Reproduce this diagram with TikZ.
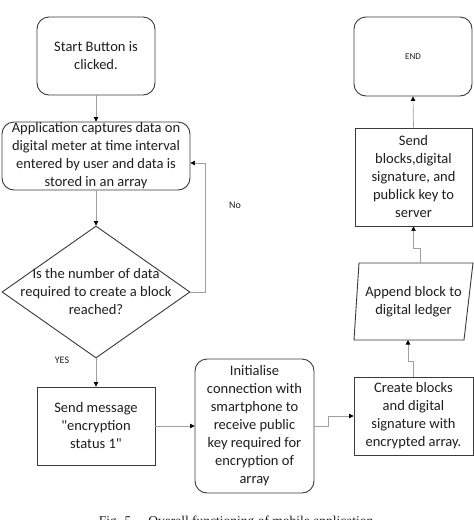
\documentclass[tikz,border=0pt]{standalone}
\usepackage{fontspec}
\setmainfont{Carlito}
\newfontfamily\capfont{Liberation Serif}
\usetikzlibrary{arrows.meta,shapes.geometric}
\definecolor{boxline}{HTML}{3A3A3A}
\definecolor{connline}{HTML}{A0A0A0}
\definecolor{txt}{HTML}{1E1E1E}
\tikzset{
  base/.style={draw=boxline, line width=0.9pt, text=txt, align=center, inner sep=0pt,
    font=\fontsize{14.5}{18}\selectfont},
  roundbox/.style={base, rounded corners=12pt},
  sqbox/.style={base},
  conn/.style={draw=connline, line width=0.7pt, -{Triangle[length=4.5pt,width=4.5pt,color=black,fill=black]}},
  smalllabel/.style={text=txt, font=\fontsize{10}{12}\selectfont}
}
\begin{document}
\begin{tikzpicture}[x=1pt,y=-1pt]
\useasboundingbox[fill=white] (0,0) rectangle (474,520);

% left column
\node[roundbox, minimum width=118pt, minimum height=78pt] (start) at (96,56) {Start Button is\\clicked.};
\node[roundbox, minimum width=188pt, minimum height=68pt] (app) at (96,156)
  {Application captures data on\\digital meter at time interval\\entered by user and data is\\stored in an array};
\node[diamond, draw=boxline, line width=0.9pt, minimum width=188pt, minimum height=132pt, inner sep=0pt] (dec) at (96,292) {};
\node[text=txt, align=center, font=\fontsize{14.5}{18}\selectfont] (dectext) at (96,292)
  {Is the number of data\\required to create a block\\reached?};
\node[sqbox, minimum width=118pt, minimum height=78pt] (send) at (96,426)
  {Send message\\\textquotedbl encryption\\status 1\textquotedbl};

% middle
\node[roundbox, minimum width=119pt, minimum height=134pt] (init) at (254.5,426)
  {Initialise\\connection with\\smartphone to\\receive public\\key required for\\encryption of\\array};

% right column
\node[sqbox, minimum width=119pt, minimum height=78pt] (create) at (413.5,416)
  {Create blocks\\and digital\\signature with\\encrypted array.};
\draw[draw=boxline, line width=0.9pt] (354,340) -- (464,340) -- (473,263) -- (359,263) -- cycle;
\node[text=txt, align=center, font=\fontsize{14.5}{18}\selectfont] (append) at (413.5,301.5)
  {Append block to\\digital ledger};
\coordinate (appb) at (408,340);
\coordinate (appt) at (420,263);
\node[sqbox, minimum width=117pt, minimum height=98pt] (send2) at (413.5,177)
  {Send\\blocks,digital\\signature, and\\publick key to\\server};
\node[roundbox, minimum width=118pt, minimum height=79pt, font=\fontsize{9}{11}\selectfont] (end) at (413,56.5) {END};

% connectors
\draw[conn] (start.south) -- (app.north);
\draw[conn] (app.south) -- (dec.north);
\draw[conn] (dec.east) -- ++(15,0) |- ([yshift=-7pt]app.east);
\draw[conn] (dec.south) -- (send.north);
\draw[conn] (send.east) -- (init.west);
\draw[conn] (init.east) -- ++(14,0) |- (create.west);
\draw[conn] (create.north) -- ++(0,-15) -| (appb);
\draw[conn] (appt) -- ++(0,-15) -| (send2.south);
\draw[conn] (send2.north) -- (end.south);

% labels
\node[smalllabel] (nolabel) at (235,205) {No};
\node[smalllabel] (yeslabel) at (62,360) {YES};

% caption (cut by page edge, as in the reference)
\node[anchor=north, text=txt, font=\capfont\fontsize{13.5}{15}\selectfont] (caption) at (236,512.5)
  {Fig. 5.\quad Overall functioning of mobile application};
\end{tikzpicture}
\end{document}
